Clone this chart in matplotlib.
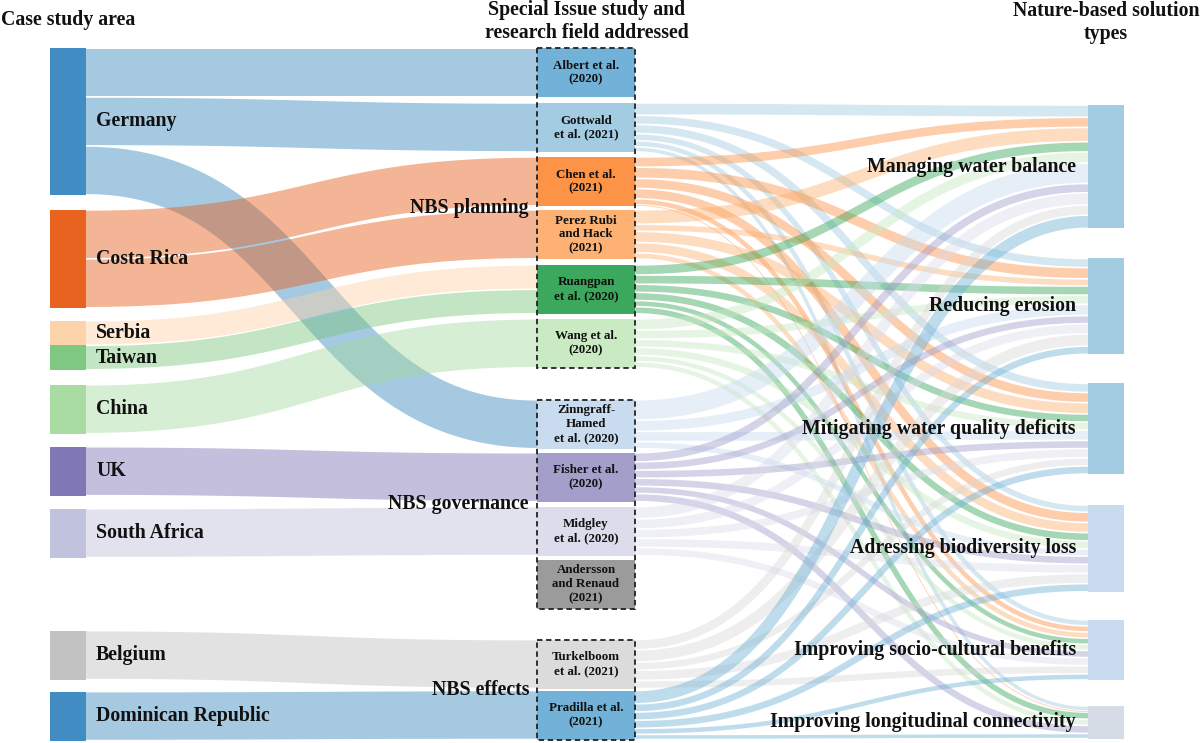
import numpy as np
import matplotlib
matplotlib.use("Agg")
import matplotlib.pyplot as plt
from matplotlib.patches import Polygon, Rectangle

# ---------------- data ----------------
countries = ["Germany", "Costa Rica", "Serbia", "Taiwan", "China", "UK",
             "South Africa", "Belgium", "Dominican Republic"]
country_colors = ["#3182bd", "#e6550d", "#fdd0a2", "#74c476", "#a1d99b",
                  "#756bb1", "#bcbddc", "#bdbdbd", "#3182bd"]

studies = ["Albert et al. (2020)", "Gottwald et al. (2021)", "Chen et al. (2021)",
           "Perez Rubi and Hack (2021)", "Ruangpan et al. (2020)", "Wang et al. (2020)",
           "Zinngraff-Hamed et al. (2020)", "Fisher et al. (2020)", "Midgley et al. (2020)",
           "Andersson and Renaud (2021)", "Turkelboom et al. (2021)", "Pradilla et al. (2021)"]
study_box_text = ["Albert et al.\n(2020)", "Gottwald\net al. (2021)", "Chen et al.\n(2021)",
                  "Perez Rubi\nand Hack\n(2021)", "Ruangpan\net al. (2020)", "Wang et al.\n(2020)",
                  "Zinngraff-\nHamed\net al. (2020)", "Fisher et al.\n(2020)", "Midgley\net al. (2020)",
                  "Andersson\nand Renaud\n(2021)", "Turkelboom\net al. (2021)", "Pradilla et al.\n(2021)"]
study_colors = ["#6baed6", "#9ecae1", "#fd8d3c", "#fdae6b", "#31a354", "#c7e9c0",
                "#c6dbef", "#9e9ac8", "#dadaeb", "#969696", "#d9d9d9", "#6baed6"]
study_group = [0, 0, 0, 0, 0, 0, 1, 1, 1, 1, 2, 2]
group_names = ["NBS planning", "NBS governance", "NBS effects"]

# country -> study links
cs_src = ["Germany", "Germany", "Germany", "Costa Rica", "Costa Rica", "Serbia", "Taiwan",
          "China", "UK", "South Africa", "Belgium", "Dominican Republic"]
cs_dst = ["Albert et al. (2020)", "Gottwald et al. (2021)", "Zinngraff-Hamed et al. (2020)",
          "Chen et al. (2021)", "Perez Rubi and Hack (2021)", "Ruangpan et al. (2020)",
          "Ruangpan et al. (2020)", "Wang et al. (2020)", "Fisher et al. (2020)",
          "Midgley et al. (2020)", "Turkelboom et al. (2021)", "Pradilla et al. (2021)"]
cs_val = [48, 48, 48, 48, 48, 24, 24, 48, 48, 48, 48, 48]
study_unit = 48  # size of a study node without links

nbs_types = ["Managing water balance", "Reducing erosion", "Mitigating water quality deficits",
             "Adressing biodiversity loss", "Improving socio-cultural benefits",
             "Improving longitudinal connectivity"]
nbs_colors = ["#9ecae1", "#9ecae1", "#9ecae1", "#c6dbef", "#c6dbef", "#d3dbe4"]

# study -> NBS type weights (order of nbs_types)
gottwald = [12, 9, 9, 7, 6, 5]
chen = [10, 11, 10, 10, 6, 1]
perez_rubi = [14, 7, 11, 10, 6, 0]
ruangpan = [10, 9, 8, 8, 6, 7]
wang = [11, 9, 8, 8, 6, 6]
zinngraff = [20, 11, 10, 7, 0, 0]
fisher = [9, 8, 8, 8, 7, 8]
midgley = [12, 10, 9, 9, 8, 0]
turkelboom = [10, 12, 8, 10, 8, 0]
pradilla = [13, 8, 8, 8, 6, 5]
sn_rows = {
    "Gottwald et al. (2021)": gottwald,
    "Chen et al. (2021)": chen,
    "Perez Rubi and Hack (2021)": perez_rubi,
    "Ruangpan et al. (2020)": ruangpan,
    "Wang et al. (2020)": wang,
    "Zinngraff-Hamed et al. (2020)": zinngraff,
    "Fisher et al. (2020)": fisher,
    "Midgley et al. (2020)": midgley,
    "Turkelboom et al. (2021)": turkelboom,
    "Pradilla et al. (2021)": pradilla,
}

# ---------------- layout ----------------
W, H = 1200, 743
scale = 1.02
col_x = {"c": (50, 36), "s": (537, 98), "n": (1088, 36)}
top_c, gaps_c = 48, [0, 15, 13, 0, 15, 13, 13, 73, 12]
top_s, gaps_s = 48, [0, 6, 5, 4, 6, 5, 32, 4, 5, 4, 31, 2]
top_n, gaps_n = 105, [0, 30, 29, 31, 28, 26]
link_alpha = 0.43
ser = "Liberation Serif"
big = 14.3
small = 9.4

nodes = {}
def add_nodes(names, col, values, top, gaps):
    y = top
    for nm, v, g in zip(names, values, gaps):
        y += g
        h = v * scale
        nodes[(col, nm)] = dict(y0=y, y1=y + h)
        y += h

c_vals = [sum(v for s, v in zip(cs_src, cs_val) if s == c) for c in countries]
s_vals = []
for s in studies:
    vin = sum(v for d, v in zip(cs_dst, cs_val) if d == s)
    vout = sum(sn_rows.get(s, [0]))
    s_vals.append(max(vin, vout, study_unit))
n_vals = [sum(sn_rows[s][j] for s in sn_rows) for j in range(len(nbs_types))]
add_nodes(countries, "c", c_vals, top_c, gaps_c)
add_nodes(studies, "s", s_vals, top_s, gaps_s)
add_nodes(nbs_types, "n", n_vals, top_n, gaps_n)

links = []
for s, d, v in zip(cs_src, cs_dst, cs_val):
    links.append(("c", s, "s", d, v, country_colors[countries.index(s)]))
for s in studies:
    if s in sn_rows:
        for j, v in enumerate(sn_rows[s]):
            if v > 0:
                links.append(("s", s, "n", nbs_types[j], v, study_colors[studies.index(s)]))

link_geo = {}
for key in nodes:
    outs = sorted([i for i, l in enumerate(links) if (l[0], l[1]) == key],
                  key=lambda i: nodes[(links[i][2], links[i][3])]["y0"])
    y = nodes[key]["y0"]
    for i in outs:
        w = links[i][4] * scale
        link_geo.setdefault(i, {})["ys"] = y + w / 2
        y += w
    ins = sorted([i for i, l in enumerate(links) if (l[2], l[3]) == key],
                 key=lambda i: nodes[(links[i][0], links[i][1])]["y0"])
    y = nodes[key]["y0"]
    for i in ins:
        w = links[i][4] * scale
        link_geo.setdefault(i, {})["yt"] = y + w / 2
        y += w

# ---------------- drawing ----------------
fig = plt.figure(figsize=(12, 7.43), dpi=100)
ax = fig.add_axes([0, 0, 1, 1])
ax.set_xlim(0, W)
ax.set_ylim(H, 0)
ax.axis("off")

def ribbon(x0, x1, yc0, yc1, w, color):
    t = np.linspace(0, 1, 120)
    xm = (x0 + x1) / 2
    X = (1 - t) ** 3 * x0 + 3 * (1 - t) ** 2 * t * xm + 3 * (1 - t) * t ** 2 * xm + t ** 3 * x1
    Y = (1 - t) ** 3 * yc0 + 3 * (1 - t) ** 2 * t * yc0 + 3 * (1 - t) * t ** 2 * yc1 + t ** 3 * yc1
    dX = 3 * (1 - t) ** 2 * (xm - x0) + 3 * t ** 2 * (x1 - xm)
    dY = 6 * (1 - t) * t * (yc1 - yc0)
    nrm = np.hypot(dX, dY)
    nx, ny = -dY / nrm, dX / nrm
    hw = max(w - 1.6, 0.8) / 2
    top = np.column_stack([X + nx * hw, Y + ny * hw])
    bot = np.column_stack([X - nx * hw, Y - ny * hw])
    poly = np.vstack([top, bot[::-1]])
    ax.add_patch(Polygon(poly, closed=True, facecolor=color, alpha=link_alpha,
                         edgecolor="none", zorder=1))

for i, l in enumerate(links):
    sx, sw = col_x[l[0]]
    tx, tw = col_x[l[2]]
    ribbon(sx + sw, tx, link_geo[i]["ys"], link_geo[i]["yt"], l[4] * scale, l[5])

for nm, c in zip(countries, country_colors):
    n = nodes[("c", nm)]
    x, w = col_x["c"]
    ax.add_patch(Rectangle((x, n["y0"]), w, n["y1"] - n["y0"], facecolor=c, alpha=0.92,
                           edgecolor="none", zorder=2))
    ax.text(x + w + 10, (n["y0"] + n["y1"]) / 2, nm, family=ser, weight="bold",
            fontsize=big, ha="left", va="center", zorder=5, color="#111")

for nm, c, txt in zip(studies, study_colors, study_box_text):
    n = nodes[("s", nm)]
    x, w = col_x["s"]
    ax.add_patch(Rectangle((x, n["y0"]), w, n["y1"] - n["y0"], facecolor=c, alpha=0.95,
                           edgecolor="none", zorder=2))
    ax.text(x + w / 2, (n["y0"] + n["y1"]) / 2, txt, family=ser, weight="bold",
            fontsize=small, ha="center", va="center", linespacing=1.2, zorder=5, color="#111")

for g, gname in enumerate(group_names):
    members = [s for s, gg in zip(studies, study_group) if gg == g]
    y0 = min(nodes[("s", s)]["y0"] for s in members)
    y1 = max(nodes[("s", s)]["y1"] for s in members)
    x, w = col_x["s"]
    ax.add_patch(Rectangle((x, y0), w, y1 - y0, fill=False, edgecolor="#222",
                           lw=1.3, ls=(0, (3, 2)), zorder=4))
    ax.text(x - 8, (y0 + y1) / 2, gname, family=ser, weight="bold", fontsize=big,
            ha="right", va="center", zorder=5, color="#111")

for nm, c in zip(nbs_types, nbs_colors):
    n = nodes[("n", nm)]
    x, w = col_x["n"]
    ax.add_patch(Rectangle((x, n["y0"]), w, n["y1"] - n["y0"], facecolor=c, alpha=0.95,
                           edgecolor="none", zorder=2))
    ax.text(x - 12, (n["y0"] + n["y1"]) / 2, nm, family=ser, weight="bold", fontsize=big,
            ha="right", va="center", zorder=5, color="#111")

ax.text(1, 20, "Case study area", family=ser, weight="bold", fontsize=big,
        ha="left", va="center", color="#111")
ax.text(587, 22, "Special Issue study and\nresearch field addressed", family=ser,
        weight="bold", fontsize=big, ha="center", va="center", linespacing=1.2, color="#111")
ax.text(1106, 22, "Nature-based solution\ntypes", family=ser, weight="bold",
        fontsize=big, ha="center", va="center", linespacing=1.2, color="#111")

fig.savefig("out.png", dpi=100, facecolor="white")
